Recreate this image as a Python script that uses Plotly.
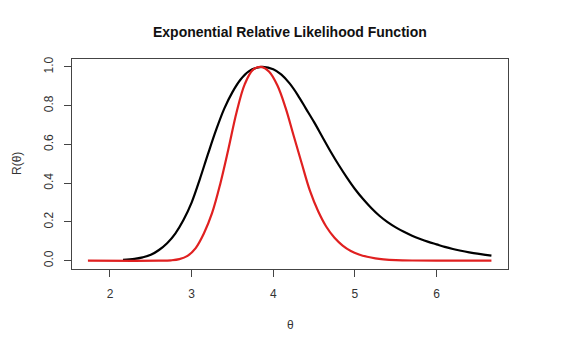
import plotly.graph_objects as go

# Black curve
theta_black = [2.16, 2.3, 2.4, 2.5, 2.6, 2.7, 2.8, 2.9, 3.0, 3.1, 3.2, 3.3, 3.4, 3.5, 3.6,
               3.7, 3.8, 3.87, 4.0, 4.1, 4.2, 4.3, 4.4, 4.5, 4.6, 4.7, 4.8, 4.9, 5.0,
               5.1, 5.2, 5.3, 5.4, 5.5, 5.6, 5.7, 5.8, 5.9, 6.0, 6.1, 6.2, 6.3, 6.4, 6.5,
               6.6, 6.672]
r_black = [0.004, 0.009, 0.017, 0.03, 0.055, 0.09, 0.14, 0.21, 0.30, 0.42, 0.55, 0.675,
           0.785, 0.87, 0.935, 0.977, 0.996, 1.0, 0.988, 0.96, 0.915, 0.855, 0.785,
           0.715, 0.64, 0.565, 0.495, 0.43, 0.37, 0.318, 0.272, 0.232, 0.199, 0.172, 0.149,
           0.129, 0.112, 0.097, 0.084, 0.071, 0.06, 0.051, 0.043, 0.036, 0.03, 0.026]

# Red curve
theta_red = [1.73, 2.6, 2.75, 2.85, 2.95, 3.05, 3.15, 3.25, 3.35, 3.45, 3.55, 3.65, 3.75,
             3.85, 3.95, 4.05, 4.15, 4.25, 4.35, 4.45, 4.55, 4.65, 4.75, 4.85, 4.95, 5.05,
             5.15, 5.25, 5.35, 5.5, 5.7, 6.0, 6.672]
r_red = [0.0, 0.0, 0.002, 0.008, 0.025, 0.065, 0.14, 0.245, 0.395, 0.575, 0.765, 0.91, 0.985,
         1.0, 0.975, 0.905, 0.79, 0.645, 0.50, 0.36, 0.255, 0.175, 0.118, 0.078, 0.05,
         0.032, 0.02, 0.012, 0.007, 0.003, 0.001, 0.0, 0.0]

x_ticks = [2, 3, 4, 5, 6]
y_ticks = [0.0, 0.2, 0.4, 0.6, 0.8, 1.0]
y_tick_text = ["0.0", "0.2", "0.4", "0.6", "0.8", "1.0"]

title_text = "Exponential Relative Likelihood Function"
x_label = "θ"
y_label = "R(θ)"

FONT = "Liberation Sans, Arial, sans-serif"
AX = "#444444"

fig = go.Figure()
fig.add_trace(go.Scatter(x=theta_black, y=r_black, mode="lines",
                         line=dict(color="black", width=2.2, shape="spline", smoothing=1.0),
                         showlegend=False, hoverinfo="skip"))
fig.add_trace(go.Scatter(x=theta_red, y=r_red, mode="lines",
                         line=dict(color="#e02020", width=2.2, shape="spline", smoothing=1.0),
                         showlegend=False, hoverinfo="skip"))

fig.update_layout(
    width=566, height=337,
    margin=dict(l=72, r=58, t=59, b=68),
    paper_bgcolor="white", plot_bgcolor="white",
    font=dict(family=FONT, size=12, color="#333333"),
    showlegend=False,
)
fig.update_xaxes(range=[1.535, 6.875], tickvals=x_ticks, ticktext=[str(v) for v in x_ticks],
                 showgrid=False, zeroline=False, showline=True, mirror=True,
                 linecolor=AX, linewidth=1.2, ticks="outside", ticklen=7, tickcolor=AX,
                 tickwidth=1, ticklabelstandoff=6, tickfont=dict(size=12, color="#333333"))
fig.update_yaxes(range=[-0.043, 1.041], tickvals=y_ticks, ticktext=y_tick_text,
                 showgrid=False, zeroline=False, showline=True, mirror=True,
                 linecolor=AX, linewidth=1.2, ticks="outside", ticklen=7, tickcolor=AX,
                 tickwidth=1, tickangle=-90, ticklabelstandoff=6,
                 tickfont=dict(size=12, color="#333333"))

fig.add_annotation(text="<b>" + title_text + "</b>", xref="paper", yref="paper",
                   x=0.5, y=1, yshift=27, xanchor="center", yanchor="middle",
                   showarrow=False, font=dict(family=FONT, size=14, color="#111111"))
fig.add_annotation(text=x_label, xref="paper", yref="paper", x=0.5, y=0, yshift=-56,
                   xanchor="center", yanchor="middle", showarrow=False,
                   font=dict(family=FONT, size=12, color="#333333"))
fig.add_annotation(text=y_label, xref="paper", yref="paper", x=0, y=0.5, xshift=-55,
                   xanchor="center", yanchor="middle", textangle=-90, showarrow=False,
                   font=dict(family=FONT, size=12, color="#333333"))

fig.write_html("out.html")
